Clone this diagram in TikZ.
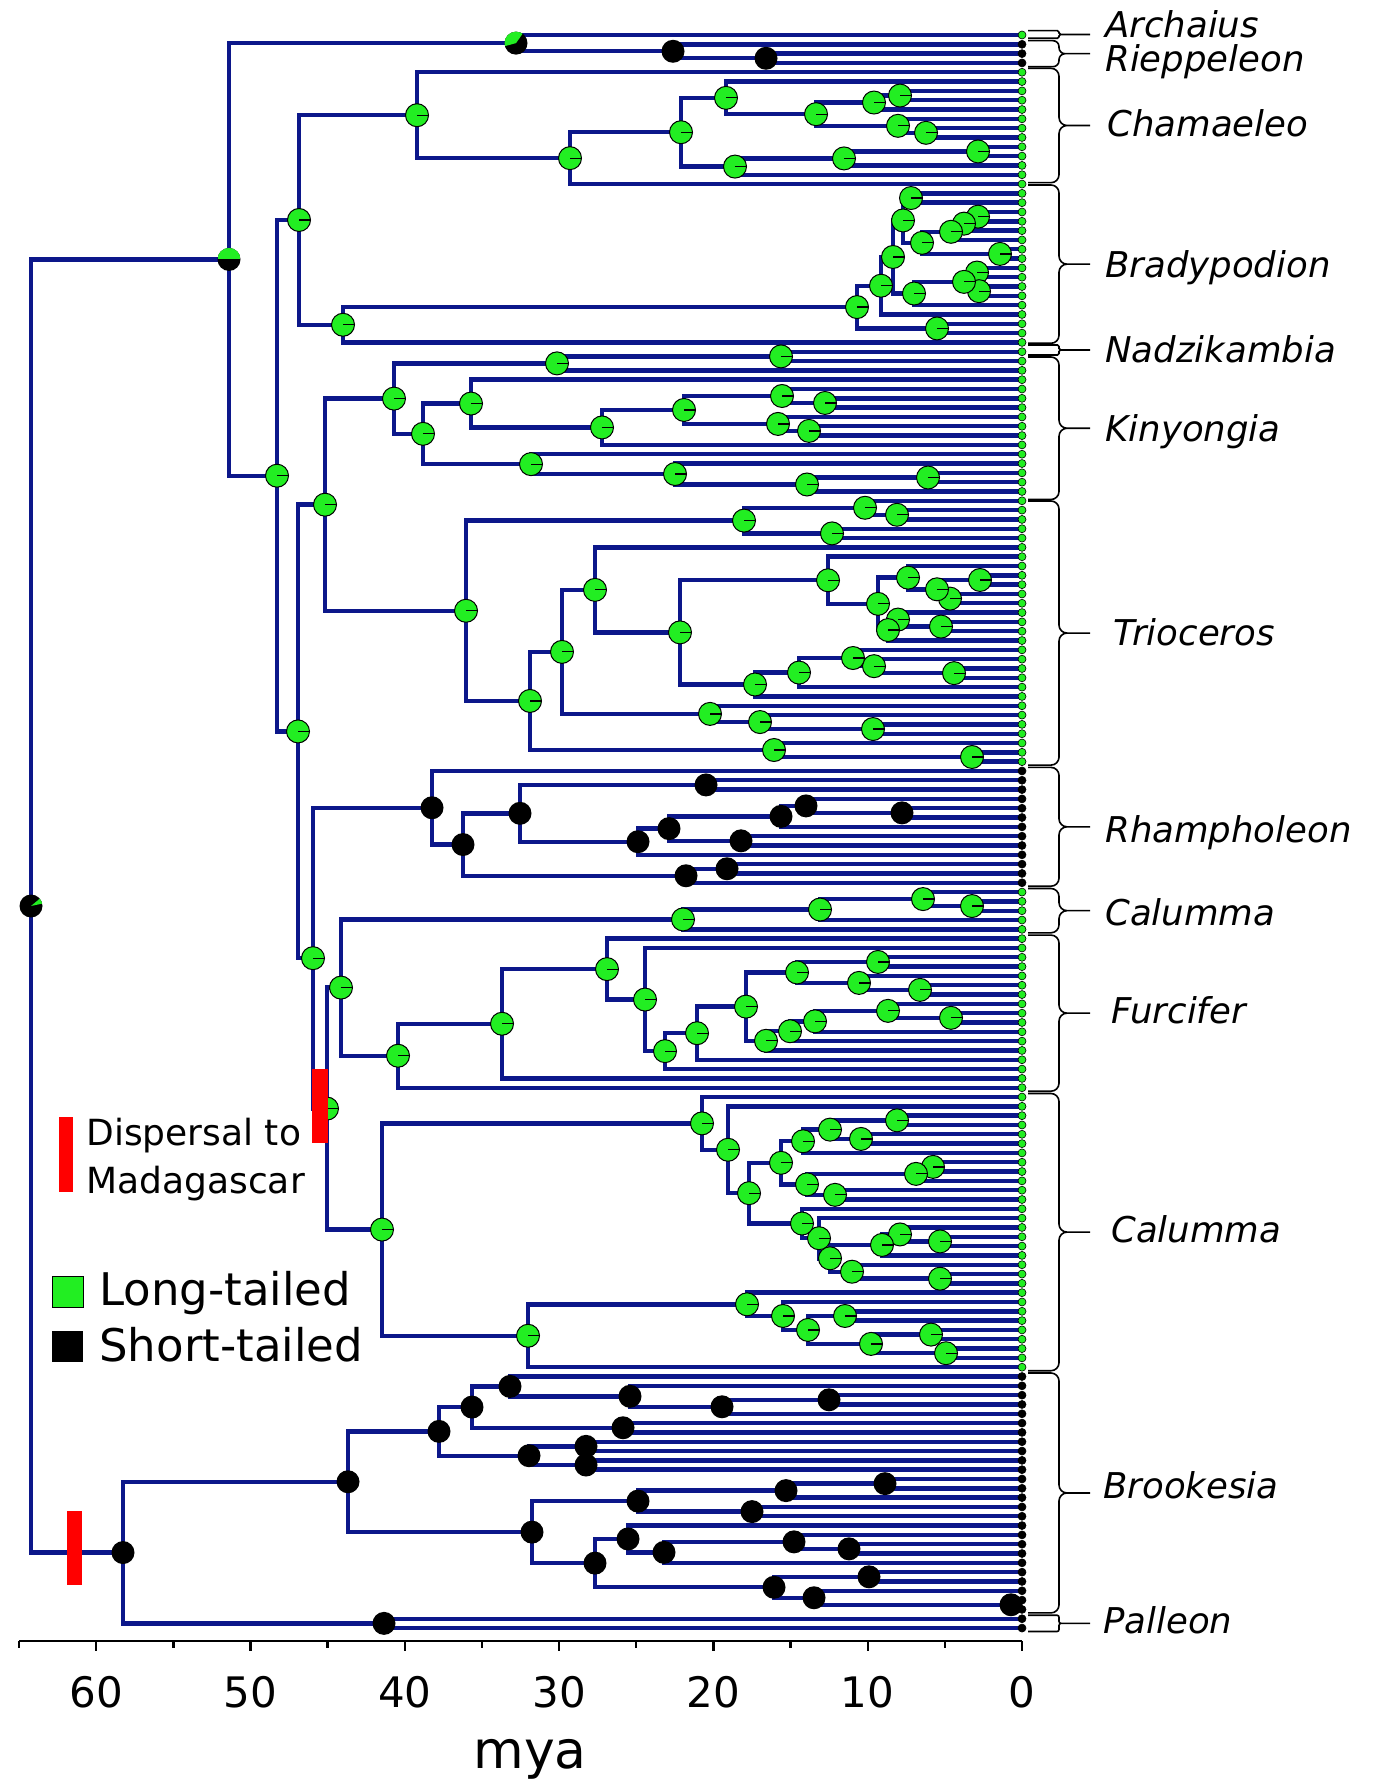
\documentclass[tikz,border=0pt]{standalone}
\usepackage{fontspec}
\setmainfont{DejaVu Sans}
\usetikzlibrary{calc}
\definecolor{cnavy}{HTML}{0C178A}
\definecolor{cgreen}{HTML}{22EE22}
\definecolor{cred}{HTML}{FF0000}
\pgfdeclarelayer{edges}
\pgfsetlayers{edges,main}
\tikzset{
  every picture/.style={x=0.5pt, y=-0.5pt},
  br/.style={draw=cnavy, line width=2.2pt},
  kpie/.style={circle, fill=black, minimum size=11.5pt, inner sep=0pt},
  gpie/.style={kpie, fill=cgreen, draw=black, line width=0.5pt, path picture={\draw[line width=0.6pt] (path picture bounding box.center) -- (path picture bounding box.east);}},
  hpie/.style={kpie, path picture={\fill[cgreen] (path picture bounding box.west) rectangle (path picture bounding box.north east);}},
  apie/.style={kpie, path picture={\fill[cgreen] (path picture bounding box.center) -- +(55:9pt) -- +(110:9pt) -- +(160:9pt) -- +(195:9pt) -- cycle;}},
  rpie/.style={kpie, path picture={\fill[cgreen] (path picture bounding box.center) -- +(12:9pt) -- +(40:9pt) -- cycle;}},
  tipg/.style={circle, draw=black, line width=0.3pt, fill=cgreen, minimum size=4pt, inner sep=0pt},
  tipk/.style={tipg, fill=black},
  brc/.style={draw=black, line width=0.8pt},
  lab/.style={font=\fontsize{17.75}{20}\selectfont\itshape, inner sep=0pt, anchor=base west},
  leg/.style={font=\fontsize{18}{22}\selectfont, inner sep=0pt, anchor=base west},
  legbig/.style={font=\fontsize{22.5}{26}\selectfont, inner sep=0pt, anchor=base west},
  tick/.style={font=\fontsize{21}{24}\selectfont, inner sep=0pt},
  axis/.style={draw=black, line width=1.2pt},
}
\newcommand{\clade}[5]{%
  \path let \p1=(#3), \p2=(#4) in coordinate (#1) at ({#2*0.5pt}, {0.5*(\y1+\y2)});
  \begin{pgfonlayer}{edges}
    \draw[br] (#1) |- (#3) (#1) |- (#4);
  \end{pgfonlayer}
  \node[#5] (m#1) at (#1) {};
}

\begin{document}
\begin{tikzpicture}
  \useasboundingbox (0,0) rectangle (1383,1786);
  \foreach \i in {1,...,172} \coordinate (t\i) at (1022, {35+(\i-1)*9.316});

  \clade{rp2}{766}{t3}{t4}{kpie}
  \clade{rp1}{673}{t2}{rp2}{kpie}
  \clade{ar}{516}{t1}{rp1}{apie}

  \clade{ch7b}{900}{t7}{t8}{gpie}
  \clade{ch7}{874}{ch7b}{t9}{gpie}
  \clade{ch8c}{926}{t11}{t12}{gpie}
  \clade{ch8}{898}{t10}{ch8c}{gpie}
  \clade{ch6}{816}{ch7}{ch8}{gpie}
  \clade{ch4}{726}{t6}{ch6}{gpie}
  \clade{ch10}{978}{t13}{t14}{gpie}
  \clade{ch9}{844}{ch10}{t15}{gpie}
  \clade{ch5}{735}{ch9}{t16}{gpie}
  \clade{ch3}{681}{ch4}{ch5}{gpie}
  \clade{ch2}{570}{ch3}{t17}{gpie}
  \clade{ch1}{417}{t5}{ch2}{gpie}

  \clade{bp11}{911}{t18}{t19}{gpie}
  \clade{bp15}{978}{t20}{t21}{gpie}
  \clade{bp14}{964}{bp15}{t22}{gpie}
  \clade{bp13}{951}{bp14}{t23}{gpie}
  \clade{bp16}{1000}{t24}{t25}{gpie}
  \clade{bp12}{922}{bp13}{bp16}{gpie}
  \clade{bp5}{903}{bp11}{bp12}{gpie}
  \clade{bp8}{977}{t26}{t27}{gpie}
  \clade{bp9}{979}{t28}{t29}{gpie}
  \clade{bp7}{964}{bp8}{bp9}{gpie}
  \clade{bp6}{914}{bp7}{t30}{gpie}
  \clade{bp4}{893}{bp5}{bp6}{gpie}
  \clade{bp2}{881}{bp4}{t31}{gpie}
  \clade{bp3}{937}{t32}{t33}{gpie}
  \clade{bp1}{857}{bp2}{bp3}{gpie}
  \clade{nad}{343}{bp1}{t34}{gpie}
  \clade{ay}{299}{ch1}{nad}{gpie}

  \clade{ki4}{781}{t35}{t36}{gpie}
  \clade{ki2}{557}{ki4}{t37}{gpie}
  \clade{ki11}{825}{t40}{t41}{gpie}
  \clade{ki9}{782}{t39}{ki11}{gpie}
  \clade{ki12}{809}{t43}{t44}{gpie}
  \clade{ki10}{778}{t42}{ki12}{gpie}
  \clade{ki8}{684}{ki9}{ki10}{gpie}
  \clade{ki7}{602}{ki8}{t45}{gpie}
  \clade{ki5}{471}{t38}{ki7}{gpie}
  \clade{ki15}{928}{t48}{t49}{gpie}
  \clade{ki14}{807}{ki15}{t50}{gpie}
  \clade{ki13}{675}{t47}{ki14}{gpie}
  \clade{ki6}{531}{t46}{ki13}{gpie}
  \clade{ki3}{423}{ki5}{ki6}{gpie}
  \clade{ki1}{394}{ki2}{ki3}{gpie}

  \clade{tr6}{897}{t52}{t53}{gpie}
  \clade{tr4}{865}{t51}{tr6}{gpie}
  \clade{tr5}{832}{t54}{t55}{gpie}
  \clade{tr2}{744}{tr4}{tr5}{gpie}
  \clade{tr23a}{980}{t59}{t60}{gpie}
  \clade{tr23b}{950}{t61}{t62}{gpie}
  \clade{tr23}{937}{tr23a}{tr23b}{gpie}
  \clade{tr16}{908}{t58}{tr23}{gpie}
  \clade{tr22b}{941}{t64}{t65}{gpie}
  \clade{tr22a}{898}{t63}{tr22b}{gpie}
  \clade{tr22}{888}{tr22a}{t66}{gpie}
  \clade{tr15}{878}{tr16}{tr22}{gpie}
  \clade{tr13}{828}{t57}{tr15}{gpie}
  \clade{tr19b}{954}{t69}{t70}{gpie}
  \clade{tr19}{874}{t68}{tr19b}{gpie}
  \clade{tr18}{853}{t67}{tr19}{gpie}
  \clade{tr17}{799}{tr18}{t71}{gpie}
  \clade{tr14}{755}{tr17}{t72}{gpie}
  \clade{tr12}{680}{tr13}{tr14}{gpie}
  \clade{tr10}{595}{t56}{tr12}{gpie}
  \clade{tr21}{873}{t75}{t76}{gpie}
  \clade{tr20}{760}{t74}{tr21}{gpie}
  \clade{tr11}{710}{t73}{tr20}{gpie}
  \clade{tr7}{562}{tr10}{tr11}{gpie}
  \clade{tr9}{972}{t78}{t79}{gpie}
  \clade{tr8}{774}{t77}{tr9}{gpie}
  \clade{tr3}{530}{tr7}{tr8}{gpie}
  \clade{tr1}{466}{tr2}{tr3}{gpie}
  \clade{ki0}{325}{ki1}{tr1}{gpie}

  \clade{rh4}{706}{t81}{t82}{kpie}
  \clade{rh10}{902}{t84}{t85}{kpie}
  \clade{rh9}{806}{t83}{rh10}{kpie}
  \clade{rh8}{781}{rh9}{t86}{kpie}
  \clade{rh7}{741}{t87}{t88}{kpie}
  \clade{rh6}{669}{rh8}{rh7}{kpie}
  \clade{rh5}{638}{rh6}{t89}{kpie}
  \clade{rh3}{520}{rh4}{rh5}{kpie}
  \clade{rh12}{727}{t90}{t91}{kpie}
  \clade{rh11}{686}{rh12}{t92}{kpie}
  \clade{rh2}{463}{rh3}{rh11}{kpie}
  \clade{rh1}{432}{t80}{rh2}{kpie}

  \clade{cs4}{972}{t94}{t95}{gpie}
  \clade{cs3}{923}{t93}{cs4}{gpie}
  \clade{cs2}{820}{cs3}{t96}{gpie}
  \clade{cs1}{683}{cs2}{t97}{gpie}

  \clade{fu9}{878}{t100}{t101}{gpie}
  \clade{fu11}{920}{t103}{t104}{gpie}
  \clade{fu10}{859}{t102}{fu11}{gpie}
  \clade{fu6}{797}{fu9}{fu10}{gpie}
  \clade{fu13}{951}{t106}{t107}{gpie}
  \clade{fu12}{888}{t105}{fu13}{gpie}
  \clade{fu14}{815}{fu12}{t108}{gpie}
  \clade{fu15}{790}{fu14}{t109}{gpie}
  \clade{fu16}{766}{fu15}{t110}{gpie}
  \clade{fu5}{746}{fu6}{fu16}{gpie}
  \clade{fu7}{697}{fu5}{t111}{gpie}
  \clade{fu8}{665}{fu7}{t112}{gpie}
  \clade{fu4}{645}{t99}{fu8}{gpie}
  \clade{fu3}{607}{t98}{fu4}{gpie}
  \clade{fu2}{502}{fu3}{t113}{gpie}
  \clade{fu1}{398}{fu2}{t114}{gpie}
  \clade{az3}{341}{cs1}{fu1}{gpie}

  \clade{ca8}{897}{t117}{t118}{gpie}
  \clade{ca7}{861}{t119}{t120}{gpie}
  \clade{ca6}{830}{ca8}{ca7}{gpie}
  \clade{ca5}{803}{ca6}{t121}{gpie}
  \clade{ca12}{933}{t122}{t123}{gpie}
  \clade{ca11}{916}{ca12}{t124}{gpie}
  \clade{ca10}{835}{t125}{t126}{gpie}
  \clade{ca9}{807}{ca11}{ca10}{gpie}
  \clade{ca4}{781}{ca5}{ca9}{gpie}
  \clade{ca19}{940}{t130}{t131}{gpie}
  \clade{ca18}{900}{t129}{ca19}{gpie}
  \clade{ca17}{882}{ca18}{t132}{gpie}
  \clade{ca20}{940}{t134}{t135}{gpie}
  \clade{ca16}{852}{t133}{ca20}{gpie}
  \clade{ca15}{830}{ca17}{ca16}{gpie}
  \clade{ca14}{819}{t128}{ca15}{gpie}
  \clade{ca13}{802}{t127}{ca14}{gpie}
  \clade{ca3}{749}{ca4}{ca13}{gpie}
  \clade{ca2}{728}{t116}{ca3}{gpie}
  \clade{ca1}{702}{t115}{ca2}{gpie}
  \clade{ca25}{845}{t138}{t139}{gpie}
  \clade{ca27}{931}{t140}{t141}{gpie}
  \clade{ca28}{946}{t142}{t143}{gpie}
  \clade{ca26}{871}{ca27}{ca28}{gpie}
  \clade{ca24}{808}{ca25}{ca26}{gpie}
  \clade{ca23}{783}{t137}{ca24}{gpie}
  \clade{ca22}{747}{t136}{ca23}{gpie}
  \clade{ca21}{528}{ca22}{t144}{gpie}
  \clade{cb}{382}{ca1}{ca21}{gpie}
  \clade{cm}{327}{az3}{cb}{gpie}
  \clade{az2}{313}{rh1}{cm}{gpie}
  \clade{az}{298}{ki0}{az2}{gpie}
  \clade{ax}{277}{ay}{az}{gpie}
  \clade{r2}{229}{ar}{ax}{hpie}

  \clade{bk8}{829}{t147}{t148}{kpie}
  \clade{bk7}{722}{bk8}{t149}{kpie}
  \clade{bk6}{630}{t146}{bk7}{kpie}
  \clade{bk5}{510}{t145}{bk6}{kpie}
  \clade{bk9}{623}{t150}{t151}{kpie}
  \clade{bk4}{472}{bk5}{bk9}{kpie}
  \clade{bk11}{586}{t152}{t153}{kpie}
  \clade{bk12}{586}{t154}{t155}{kpie}
  \clade{bk10}{529}{bk11}{bk12}{kpie}
  \clade{bk2}{439}{bk4}{bk10}{kpie}
  \clade{bk15}{885}{t156}{t157}{kpie}
  \clade{bk14}{786}{bk15}{t158}{kpie}
  \clade{bk16}{752}{t159}{t160}{kpie}
  \clade{bk13}{638}{bk14}{bk16}{kpie}
  \clade{bk22}{849}{t163}{t164}{kpie}
  \clade{bk20}{794}{t162}{bk22}{kpie}
  \clade{bk19}{664}{bk20}{t165}{kpie}
  \clade{bk17}{628}{t161}{bk19}{kpie}
  \clade{bk24}{869}{t166}{t167}{kpie}
  \clade{bk26}{1011}{t169}{t170}{kpie}
  \clade{bk25}{814}{t168}{bk26}{kpie}
  \clade{bk23}{774}{bk24}{bk25}{kpie}
  \clade{bk18}{595}{bk17}{bk23}{kpie}
  \clade{bk3}{532}{bk13}{bk18}{kpie}
  \clade{bk1}{348}{bk2}{bk3}{kpie}
  \clade{pa}{384}{t171}{t172}{kpie}
  \clade{bkp}{123}{bk1}{pa}{kpie}
  \clade{rt}{31}{r2}{bkp}{rpie}

  \foreach \i in {1,5,6,...,79,93,94,...,144} \node[tipg] (d\i) at (t\i) {};
  \foreach \i in {2,3,4,80,81,...,92,145,146,...,172} \node[tipk] (d\i) at (t\i) {};

  \foreach \a/\b/\r in {30.7/38.3/0.8pt, 40.7/66.7/3pt, 68.3/182.7/4pt, 185/343.3/4pt, 345/355/0.8pt, 357/499.5/4pt, 501/765.1/4pt, 767.4/886.2/4pt, 888.5/932.8/4pt, 935.1/1091.2/4pt, 1093.5/1370.7/4pt, 1373/1612.9/4pt, 1615.2/1631.5/1pt}
    \draw[brc, rounded corners=\r] (1028,\a) -| (1059,{(\a+\b)/2}) -- (1090,{(\a+\b)/2}) (1028,\b) -| (1059,{(\a+\b)/2}) -- (1090,{(\a+\b)/2});

  \node[lab] (archaius) at (1105,38) {Archaius};
  \node[lab] (rieppeleon) at (1105,72) {Rieppeleon};
  \node[lab] (chamaeleo) at (1107,137) {Chamaeleo};
  \node[lab] (bradypodion) at (1105,278) {Bradypodion};
  \node[lab] (nadzikambia) at (1105,363) {Nadzikambia};
  \node[lab] (kinyongia) at (1105,442) {Kinyongia};
  \node[lab] (trioceros) at (1113,645) {Trioceros};
  \node[lab] (rhampholeon) at (1105,842) {Rhampholeon};
  \node[lab] (calumma1) at (1105,925) {Calumma};
  \node[lab] (furcifer) at (1111,1023) {Furcifer};
  \node[lab] (calumma2) at (1111,1242) {Calumma};
  \node[lab] (brookesia) at (1103,1498) {Brookesia};
  \node[lab] (palleon) at (1103,1633) {Palleon};

  \coordinate (xa) at (19,1641);
  \coordinate (xb) at (1022,1641);
  \draw[axis] (xa) -- (xb);
  \foreach \m in {0,5,...,65} \draw[axis] ({1022-15.43*\m},1641) -- ++(0,7);
  \foreach \m in {0,10,...,60} {
    \draw[axis] ({1022-15.43*\m},1641) -- ++(0,10);
    \node[tick] (n\m) at ({1022-15.43*\m},1692) {\m};
  }
  \node[font=\fontsize{26}{30}\selectfont, inner sep=0pt, anchor=base] (mya) at (530,1768) {mya};

  \fill[cred] (67,1511) rectangle (82,1585);
  \fill[cred] (312,1069) rectangle (328,1143);
  \fill[cred] (59,1117) rectangle (73,1192);
  \node[leg] (disp1) at (86,1145) {Dispersal to};
  \node[leg] (disp2) at (86,1193) {Madagascar};
  \filldraw[fill=cgreen, draw=black, line width=0.5pt] (52,1276) rectangle (83,1307);
  \fill[black] (52,1331) rectangle (83,1362);
  \node[legbig] (long) at (99,1305) {Long-tailed};
  \node[legbig] (short) at (99,1361) {Short-tailed};
\end{tikzpicture}
\end{document}
